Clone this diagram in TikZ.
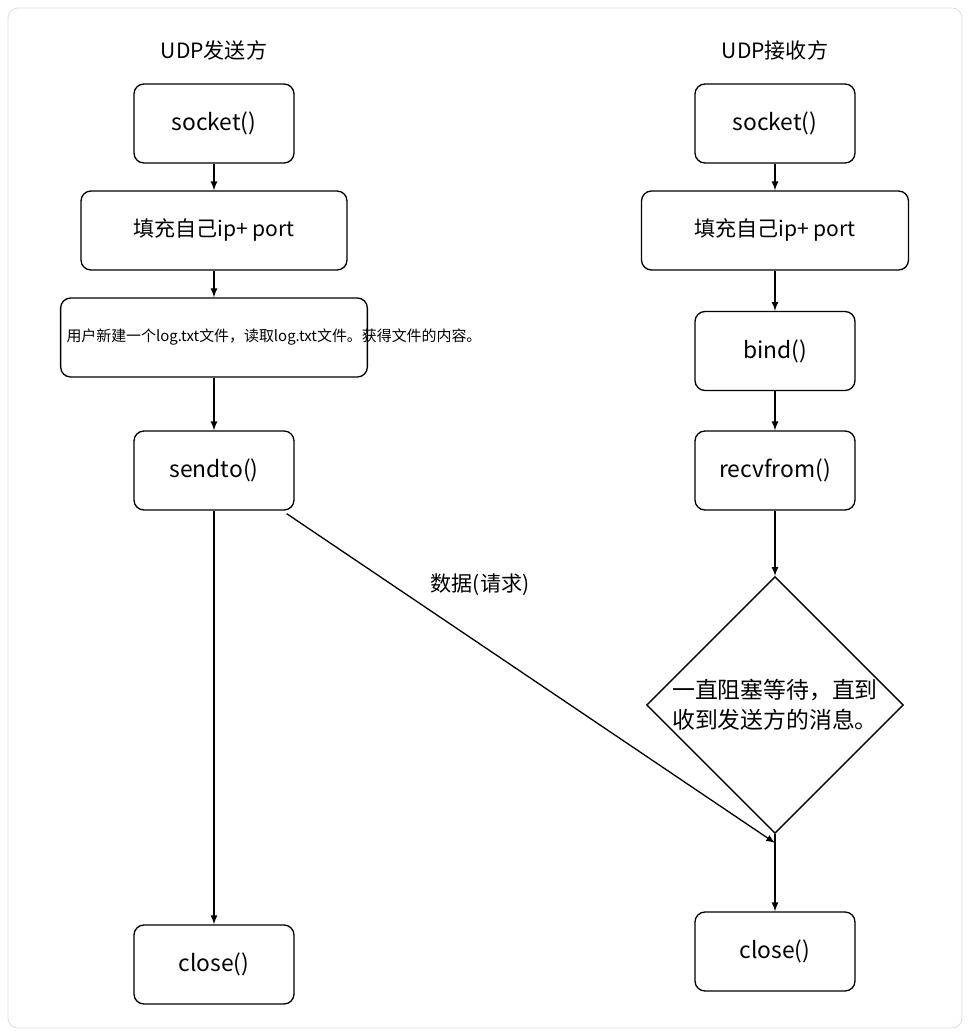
\documentclass[tikz,border=0pt]{standalone}
\usepackage{fontspec}
\setmainfont{Noto Sans CJK SC}
\usetikzlibrary{shapes.geometric}
\tikzset{
  box/.style={draw,rounded corners=0.2cm,line width=0.75pt,minimum height=1.58cm,align=center,font=\fontsize{13}{15}\selectfont},
  arr/.style={-latex,line width=0.75pt}
}
\begin{document}
\begin{tikzpicture}
  \useasboundingbox (0,0) rectangle (19.38,-20.7);
  \draw[gray!30,rounded corners=0.2cm] (0.16,-0.16) rectangle (19.24,-20.56);
%%% sender
  \node[font=\fontsize{12}{14}\selectfont] (stitle) at (4.28,-1.0) {UDP发送方};
  \node[box,minimum width=3.2cm] (ssock) at (4.28,-2.47) {socket()};
  \node[box,minimum width=5.32cm,font=\fontsize{12}{14}\selectfont] (sfill) at (4.28,-4.61) {填充自己ip+ port};
  \node[box,minimum width=6.12cm,text width=5.9cm,font=\fontsize{8.5}{12}\selectfont] (sread) at (4.28,-6.75) {用户新建一个log.txt文件，读取log.txt文件。获得文件的内容。};
  \node[box,minimum width=3.2cm] (ssend) at (4.28,-9.41) {sendto()};
  \node[box,minimum width=3.2cm] (sclose) at (4.28,-19.29) {close()};
%%% receiver
  \node[font=\fontsize{12}{14}\selectfont] (rtitle) at (15.5,-1.0) {UDP接收方};
  \node[box,minimum width=3.2cm] (rsock) at (15.5,-2.47) {socket()};
  \node[box,minimum width=5.34cm,font=\fontsize{12}{14}\selectfont] (rfill) at (15.5,-4.61) {填充自己ip+ port};
  \node[box,minimum width=3.2cm] (rbind) at (15.5,-7.02) {bind()};
  \node[box,minimum width=3.2cm] (rrecv) at (15.5,-9.41) {recvfrom()};
  \node[draw,diamond,line width=0.75pt,minimum width=4.82cm,minimum height=3.48cm,inner sep=0pt,align=center,font=\fontsize{13}{17}\selectfont] (rwait) at (15.5,-14.1) {一直阻塞等待，直到\\收到发送方的消息。};
  \node[box,minimum width=3.2cm] (rclose) at (15.5,-19.03) {close()};
  \coordinate (rin) at (15.5,-16.86);
%%%
  \draw[arr] (ssock) -- (sfill);
  \draw[arr] (sfill) -- (sread);
  \draw[arr] (sread) -- (ssend);
  \draw[arr] (ssend) -- (sclose);
  \draw[arr] (rsock) -- (rfill);
  \draw[arr] (rfill) -- (rbind);
  \draw[arr] (rbind) -- (rrecv);
  \draw[arr] (rrecv) -- (rwait.north);
  \draw[arr] (rwait.south) -- (rclose);
  \draw[arr] (ssend.south east) ++(-0.16,-0.06) coordinate (sout) (sout) -- (rin);
  \node[font=\fontsize{12}{14}\selectfont] (data) at (9.6,-11.7) {数据(请求)};
\end{tikzpicture}
\end{document}
